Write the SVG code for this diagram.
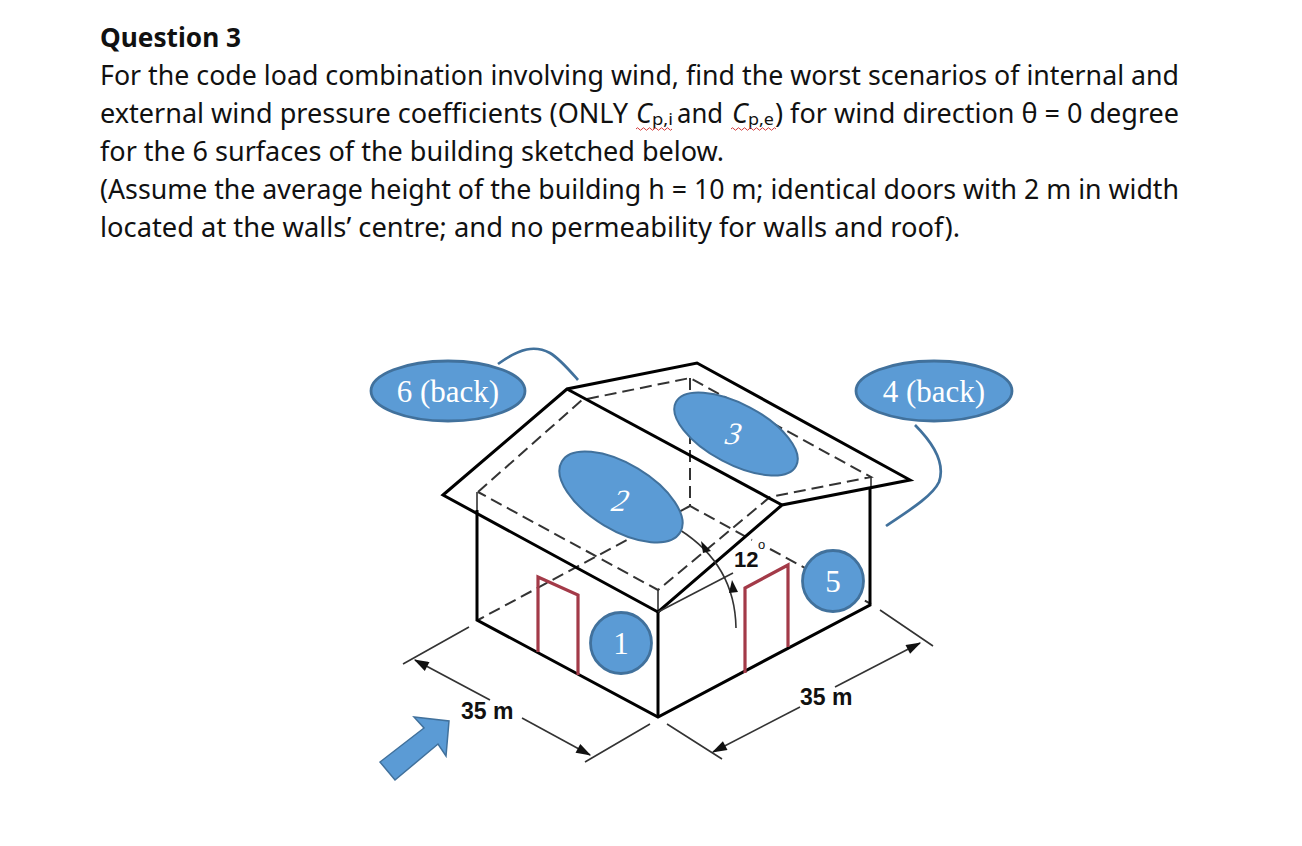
<svg xmlns="http://www.w3.org/2000/svg" width="1302" height="846" viewBox="0 0 1302 846">
<style>
.t{font-family:"Noto Sans","Open Sans",sans-serif;font-size:27px;fill:#111}
.sub{font-size:17px}
.solid{fill:none;stroke:#000;stroke-width:3;stroke-linejoin:miter}
.dash{fill:none;stroke:#333;stroke-width:2;stroke-dasharray:12 6}
.thin{fill:none;stroke:#333;stroke-width:1.6}
.door{fill:none;stroke:#a33a48;stroke-width:3.2}
.blue{fill:#5b9bd5;stroke:#41719c;stroke-width:2.8}
.blue2{fill:#5b9bd5;stroke:#41719c;stroke-width:1.5}
.lab{font-family:"Liberation Serif",serif;font-size:31px;fill:#fff;text-anchor:middle}
.dim{font-family:"Liberation Sans",sans-serif;font-size:23px;font-weight:bold;fill:#111}
.lead{fill:none;stroke:#41719c;stroke-width:2.7}
.sq{fill:none;stroke:#d23a3a;stroke-width:1}
</style>
<defs>
<marker id="ah" viewBox="0 0 12 8" refX="11" refY="4" markerWidth="18" markerHeight="10" markerUnits="userSpaceOnUse" orient="auto-start-reverse"><path d="M0 0L12 4L0 8Z" fill="#111"/></marker>
</defs>

<g id="question-text">
<text class="t" x="100" y="47" font-weight="bold" textLength="141" lengthAdjust="spacingAndGlyphs">Question 3</text>
<text class="t" x="100" y="85" textLength="1079" lengthAdjust="spacingAndGlyphs">For the code load combination involving wind, find the worst scenarios of internal and</text>
<text class="t" x="100" y="123" textLength="528" lengthAdjust="spacingAndGlyphs">external wind pressure coefficients (ONLY</text>
<text class="t" x="636" y="123" font-style="italic">C</text>
<text class="t sub" x="652" y="125" textLength="21" lengthAdjust="spacingAndGlyphs">p,i</text>
<text class="t" x="677" y="123" textLength="46" lengthAdjust="spacingAndGlyphs">and</text>
<text class="t" x="732" y="123" font-style="italic">C</text>
<text class="t sub" x="748" y="125" textLength="26" lengthAdjust="spacingAndGlyphs">p,e</text>
<text class="t" x="775" y="123" textLength="404" lengthAdjust="spacingAndGlyphs">) for wind direction θ = 0 degree</text>
<text class="t" x="100" y="161" textLength="624" lengthAdjust="spacingAndGlyphs">for the 6 surfaces of the building sketched below.</text>
<text class="t" x="100" y="199" textLength="1079" lengthAdjust="spacingAndGlyphs">(Assume the average height of the building h = 10 m; identical doors with 2 m in width</text>
<text class="t" x="100" y="237" textLength="860" lengthAdjust="spacingAndGlyphs">located at the walls’ centre; and no permeability for walls and roof).</text>
<path class="sq" d="M636 129q1.500 -2.500 3 0t3 0t3 0t3 0t3 0t3 0t3 0t3 0t3 0t3 0t3 0t3 0"/>
<path class="sq" d="M731 129q1.500 -2.500 3 0t3 0t3 0t3 0t3 0t3 0t3 0t3 0t3 0t3 0t3 0t3 0t3 0t3 0t3 0"/>
</g>

<g id="connectors">
<path class="dash" d="M478 492L582 400L690 378L871 477L770 497L658 590L478 492"/>
<path class="dash" d="M690 378V506L752 540M770 549L871 604M690 506L478 620"/>
<path class="thin" d="M477 492V510M871 477V487M658 590V612"/>
<path class="solid" d="M477 510V620L658 717L870 605V487"/>
<path class="solid" d="M658 612V717"/>
<path class="solid" d="M443 495L567 389L697 363L910 480L782 505L658 612L443 495Z"/>
<path class="solid" d="M567 389L782 505"/>
<path class="door" d="M538 652V577L578 595V675"/>
<path class="door" d="M745 673V588L788 565V647"/>
<path class="thin" d="M658 612L733 573"/>
<path class="thin" d="M680 530Q735 565 736 628"/>
<path d="M701 541L711 551L703 553Z" fill="#111"/>
<path d="M729 593L738 592L732 580Z" fill="#111"/>
<path class="thin" d="M403 664L469 627M585 762L650 724M667 724L722 759M880 610L933 646"/>
<path class="thin" marker-start="url(#ah)" d="M415 660L490 700"/>
<path class="thin" marker-end="url(#ah)" d="M522 718L590 755"/>
<path class="thin" marker-start="url(#ah)" d="M713 752L800 707"/>
<path class="thin" marker-end="url(#ah)" d="M835 687L920 643"/>
<path class="lead" d="M498 364C520 348 535 345 550 353C560 359 570 371 578 380"/>
<path class="lead" d="M915 425C935 445 945 465 939 482C932 497 905 513 886 526"/>
</g>

<g id="wind-arrow"><path class="blue2" d="M380 762L395 780L438 744L446 756L449 721L414 717L424 728Z"/></g>
<g id="node-6"><ellipse class="blue" cx="448" cy="391" rx="77" ry="30"/><text class="lab" x="448" y="402">6 (back)</text></g>
<g id="node-4"><ellipse class="blue" cx="934" cy="391" rx="78" ry="30"/><text class="lab" x="934" y="402">4 (back)</text></g>
<g id="node-2"><ellipse class="blue" cx="621" cy="497" rx="69" ry="33" transform="rotate(31 621 497)" style="stroke-width:2"/><text class="lab" font-style="italic" transform="translate(618 511) skewX(-14)">2</text></g>
<g id="node-3"><ellipse class="blue" cx="736" cy="434" rx="68" ry="30" transform="rotate(28 736 434)" style="stroke-width:2"/><text class="lab" font-style="italic" transform="translate(732 444) skewX(-10)">3</text></g>
<g id="node-1"><circle class="blue" cx="621" cy="643" r="30.500"/><text class="lab" x="621" y="654">1</text></g>
<g id="node-5"><circle class="blue" cx="833" cy="581" r="30.500"/><text class="lab" x="833" y="592">5</text></g>

<g id="labels">
<text class="dim" x="461" y="719">35 m</text>
<text class="dim" x="800" y="705">35 m</text>
<text class="dim" x="734" y="567" style="font-size:22px">12</text>
<text class="dim" x="758" y="549" style="font-size:13px;font-weight:normal">o</text>
</g>
</svg>
